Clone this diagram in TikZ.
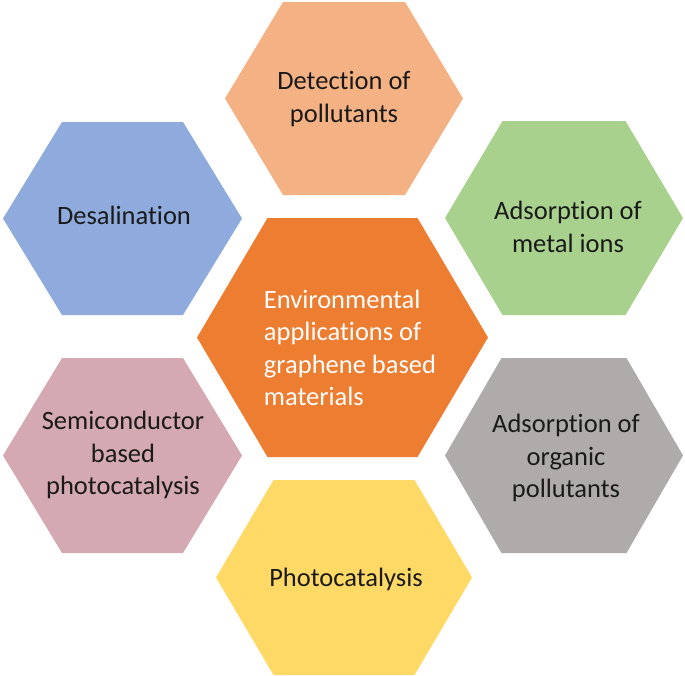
\documentclass[tikz,border=0pt]{standalone}
\usepackage{fontspec}
\setmainfont{Carlito}[RawFeature={-liga;-clig;-dlig}]
\definecolor{cTop}{HTML}{F4B183}
\definecolor{cBlue}{HTML}{8FAADC}
\definecolor{cGreen}{HTML}{A9D18E}
\definecolor{cCenter}{HTML}{ED7D31}
\definecolor{cPink}{HTML}{D5A9B1}
\definecolor{cGrey}{HTML}{AFABAB}
\definecolor{cYellow}{HTML}{FFD966}
\definecolor{cText}{HTML}{1A1A1A}
\newcommand{\hexat}[6]{\fill[#6] (#1-#3,#2) -- (#1-#4,#2-#5) -- (#1+#4,#2-#5) -- (#1+#3,#2) -- (#1+#4,#2+#5) -- (#1-#4,#2+#5) -- cycle;}
\newcommand{\nl}{\kern0pt }
\tikzset{
  lbl/.style={align=center, text=cText, inner sep=0pt, font=\fontsize{26.5}{32.5}\selectfont},
  clbl/.style={align=left, text=white, inner sep=0pt, font=\fontsize{26.5}{32.5}\selectfont}
}
\begin{document}
\begin{tikzpicture}[x=1pt,y=-1pt]
\useasboundingbox (0,0) rectangle (685,675);
% hexagons: cx, cy, half width, half top edge, half height
\hexat{344}{98.5}{119}{61}{96.5}{cTop}
\hexat{122.5}{218.5}{119.5}{60.5}{96.5}{cBlue}
\hexat{564}{218}{119}{61.5}{97}{cGreen}
\hexat{342.5}{337.5}{145.5}{75}{119.5}{cCenter}
\hexat{122.5}{455.5}{119.5}{60.5}{97.5}{cPink}
\hexat{564}{455.5}{119}{62.5}{97.5}{cGrey}
\hexat{344}{577.5}{128}{70.5}{97.5}{cYellow}
% labels
\node[lbl] (detect) at (344,99) {Detect\nl ion of\\pollutants};
\node[lbl] (desal) at (124,215) {Desalinat\nl ion};
\node[lbl] (metal) at (568,227) {Adsorpt\nl ion of\\metal ions};
\node[clbl] (center) at (350,348) {Environmental\\applicat\nl ions of\\graphene based\\materials};
\node[lbl] (semi) at (123,455) {Semiconductor\\based\\photocatalysis};
\node[lbl] (organic) at (566,458) {Adsorpt\nl ion of\\organic\\pollutants};
\node[lbl] (photo) at (346,579) {Photocatalysis};
\end{tikzpicture}
\end{document}
